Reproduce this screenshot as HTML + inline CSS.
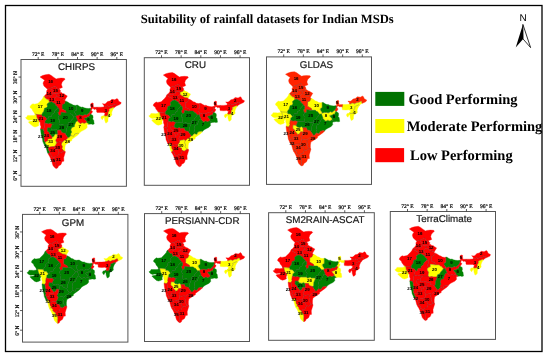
<!DOCTYPE html>
<html><head><meta charset="utf-8"><style>
html,body{margin:0;padding:0;background:#fff;}
svg{display:block;text-rendering:geometricPrecision;}
.ax{font-family:"Liberation Serif",serif;font-size:5.5px;fill:#000;stroke:#000;stroke-width:0.18px;}
.tt{font-family:"Liberation Sans",sans-serif;font-size:9.8px;fill:#1a1a1a;stroke:#1a1a1a;stroke-width:0.2px;}
.nb{font-family:"Liberation Sans",sans-serif;font-size:4.4px;font-weight:bold;fill:#000;}
.lg{font-family:"Liberation Serif",serif;font-size:14.5px;font-weight:bold;fill:#000;}
</style></head><body>
<svg width="550" height="359" viewBox="0 0 550 359">
<defs>
<path id="s2" d="M77.6 -71.4 77.3 -71.4 74.1 -69.7 73.6 -70.2 70.4 -68.6 69.3 -69.7 66.3 -68.4 65.8 -68.6 65.7 -70.1 64.4 -71.2 64.2 -71.6 66.5 -71.4 67.5 -71.9 69.4 -73.7 71.7 -74.3 73.7 -76.0 76.6 -75.5 78.9 -76.8 79.9 -75.7 80.6 -74.0 83.0 -72.7 82.5 -71.4 81.5 -70.7 78.2 -69.3Z"/>
<path id="s3" d="M66.7 -59.1 65.9 -60.1 66.2 -60.3 67.0 -61.9 65.2 -62.9 62.2 -62.7 58.9 -62.9 58.5 -63.2 58.4 -65.4 58.8 -68.1 62.2 -68.1 65.8 -68.4 65.8 -68.6 66.3 -68.4 69.3 -69.7 70.4 -68.6 73.6 -70.2 74.1 -69.7 77.3 -71.4 77.6 -71.4 78.2 -69.3 76.3 -68.1 75.8 -67.3 75.0 -67.8 70.9 -66.0 71.3 -64.7 69.9 -62.4 70.1 -61.5 69.3 -59.4Z"/>
<path id="s4" d="M66.7 -59.1 69.3 -59.4 70.1 -61.5 69.9 -62.4 71.3 -64.7 70.9 -66.0 75.0 -67.8 75.8 -67.3 75.0 -66.2 74.0 -64.2 73.4 -62.2 73.7 -60.3 72.0 -58.6 70.4 -58.3 69.8 -56.3 69.8 -54.0 68.8 -52.7 67.5 -52.2 66.5 -55.0 66.2 -58.0 65.2 -57.5 64.2 -55.5 63.4 -56.3 62.7 -57.6 63.5 -59.3 65.2 -59.4 65.9 -60.1Z"/>
<path id="s5" d="M52.6 -66.4 52.1 -67.0 52.7 -66.8 52.9 -68.1 52.4 -69.8 52.7 -71.7 54.4 -72.4 55.2 -71.7 54.9 -70.1 55.3 -69.6 55.3 -69.1 55.0 -68.0 58.8 -68.1 58.4 -65.4 57.6 -66.2 56.0 -65.8 55.3 -66.5 54.0 -67.0 53.1 -64.8 54.4 -63.9 53.9 -62.7 52.6 -61.1 51.8 -61.3 50.9 -62.6 50.9 -63.0 51.6 -63.5Z"/>
<path id="s6" d="M48.2 -53.0 48.4 -53.7 45.8 -56.7 46.0 -57.3 48.6 -57.9 49.2 -58.8 50.7 -58.8 51.8 -61.3 52.6 -61.1 54.7 -59.8 54.9 -57.6 54.4 -56.3 55.5 -55.0 56.0 -51.3 54.4 -50.9 53.1 -51.3 50.5 -51.0Z"/>
<path id="s7" d="M36.6 -41.4 35.5 -39.0 32.7 -39.7 32.3 -41.4 33.4 -43.2 32.5 -45.3 33.5 -47.9 36.2 -48.9 36.1 -50.1 37.8 -53.8 39.2 -54.5 42.0 -51.7 44.2 -52.7 46.0 -52.0 48.2 -53.0 50.5 -51.0 49.1 -50.8 48.8 -49.5 49.1 -48.1 47.5 -46.2 43.2 -44.0 41.6 -42.7 40.8 -41.7 39.9 -42.1Z"/>
<path id="s8" d="M38.4 -59.7 41.2 -60.5 42.2 -60.2 42.6 -60.4 44.6 -59.9 46.9 -61.1 48.3 -60.4 50.9 -62.6 51.8 -61.3 50.7 -58.8 49.2 -58.8 48.6 -57.9 46.0 -57.3 45.8 -56.7 48.4 -53.7 48.2 -53.0 46.0 -52.0 44.2 -52.7 42.0 -51.7 39.2 -54.5 39.2 -54.7 37.6 -58.7Z"/>
<path id="s9" d="M38.3 -70.1 39.0 -70.2 39.6 -70.1 41.4 -68.9 43.2 -68.1 44.5 -68.3 45.9 -67.5 48.1 -67.0 50.1 -66.8 52.1 -67.0 52.6 -66.4 51.6 -63.5 50.9 -63.0 50.9 -62.6 48.3 -60.4 46.9 -61.1 44.6 -59.9 42.6 -60.4 42.2 -60.2 41.2 -60.5 38.4 -59.7 36.4 -62.9 36.8 -64.5 38.3 -65.1Z"/>
<path id="s10" d="M28.0 -62.4 27.7 -64.2 24.1 -66.3 23.7 -67.0 23.9 -67.4 23.9 -70.9 26.0 -71.6 27.3 -74.4 29.5 -73.4 31.8 -71.7 33.1 -71.4 35.0 -70.2 37.2 -69.9 38.3 -70.1 38.3 -65.1 36.8 -64.5 36.4 -62.9 38.4 -59.7 37.6 -58.7 35.9 -58.4 33.6 -61.1 32.8 -61.1 31.6 -62.4Z"/>
<path id="s11" d="M19.5 -67.4 19.2 -68.5 17.0 -70.5 16.9 -71.3 18.1 -73.7 16.8 -75.2 15.9 -76.8 18.6 -79.2 21.4 -77.6 23.3 -76.2 24.5 -76.3 26.7 -75.4 26.4 -74.8 27.3 -74.4 26.0 -71.6 23.9 -70.9 23.9 -67.4 23.7 -67.0 24.1 -66.3 27.7 -64.2 28.0 -62.4 27.9 -62.3 23.0 -63.0 22.8 -60.4 20.9 -59.7 19.5 -62.8 20.8 -63.6 20.8 -66.7Z"/>
<path id="s12" d="M23.3 -76.2 18.6 -79.2 18.3 -81.3 21.2 -82.2 22.0 -83.3 21.9 -83.2 23.3 -82.9 24.2 -81.9 25.9 -81.5 27.0 -80.6 29.1 -79.4 26.7 -75.4 24.5 -76.3Z"/>
<path id="s13" d="M12.0 -73.0 11.2 -73.1 10.0 -75.8 8.9 -75.7 6.6 -77.6 6.5 -78.3 10.3 -79.6 11.4 -78.9 13.5 -79.8 14.3 -82.1 14.6 -82.3 17.6 -81.9 18.3 -81.3 18.6 -79.2 15.9 -76.8 16.8 -75.2 18.1 -73.7 16.9 -71.3 13.4 -73.5 13.0 -73.6Z"/>
<path id="s14" d="M11.4 -78.9 10.3 -79.6 6.5 -78.3 5.8 -79.1 6.5 -79.6 8.2 -81.5 8.5 -82.5 8.4 -84.5 9.5 -85.8 8.8 -86.5 9.8 -86.4 11.5 -87.2 12.4 -87.0 14.6 -83.5 14.6 -82.3 14.3 -82.1 13.5 -79.8Z"/>
<path id="s15" d="M14.6 -82.3 14.6 -83.5 12.4 -87.0 17.1 -89.4 17.3 -89.3 17.8 -88.0 19.2 -86.4 21.5 -85.6 22.3 -84.8 22.0 -83.3 21.2 -82.2 18.3 -81.3 17.6 -81.9Z"/>
<path id="s16" d="M19.2 -86.4 17.8 -88.0 17.3 -89.3 17.1 -89.4 12.4 -87.0 11.5 -87.2 9.8 -86.4 8.8 -86.5 5.7 -89.4 4.9 -91.7 5.2 -93.3 6.5 -95.1 1.8 -98.4 4.3 -99.7 7.2 -100.6 10.8 -101.0 13.1 -99.9 15.7 -97.9 18.0 -96.4 19.5 -96.9 22.9 -97.2 26.1 -97.0 26.9 -96.0 24.9 -94.3 23.9 -93.0 23.2 -90.7 24.2 -87.9 22.4 -87.1 21.0 -86.8 21.5 -85.6Z"/>
<path id="s17" d="M3.6 -60.4 -2.1 -60.9 -2.5 -61.4 -3.4 -61.5 -4.3 -62.9 -5.6 -64.5 -6.2 -66.2 -8.2 -67.8 -7.9 -69.4 -6.5 -70.7 -5.2 -71.6 -3.9 -71.1 -0.3 -71.7 3.3 -75.3 4.6 -77.0 5.2 -78.6 5.8 -79.1 6.5 -78.3 6.6 -77.6 8.9 -75.7 10.0 -75.8 11.2 -73.1 8.9 -71.2 9.3 -68.8 8.3 -67.5 6.4 -67.0 5.5 -63.3 4.6 -62.8Z"/>
<path id="s18" d="M9.8 -56.5 8.5 -56.3 6.5 -58.6 4.0 -58.8 3.6 -60.4 4.6 -62.8 5.5 -63.3 6.4 -67.0 8.3 -67.5 9.3 -68.8 8.9 -71.2 11.2 -73.1 12.0 -73.0 13.0 -73.6 13.4 -73.5 16.9 -71.3 17.0 -70.5 19.2 -68.5 19.5 -67.4 16.2 -64.0 16.4 -63.4 16.3 -62.8 13.7 -60.9 13.4 -58.9 10.5 -58.9Z"/>
<path id="s19" d="M21.4 -55.4 20.7 -51.3 16.0 -51.3 15.8 -51.4 14.1 -51.0 11.3 -51.9 10.2 -51.4 6.6 -52.3 6.8 -54.6 8.5 -56.3 9.8 -56.5 10.5 -58.9 13.4 -58.9 13.7 -60.9 16.3 -62.8 16.4 -63.4 16.2 -64.0 19.5 -67.4 20.8 -66.7 20.8 -63.6 19.5 -62.8 20.9 -59.7 19.8 -58.2 20.4 -56.1Z"/>
<path id="s20" d="M21.4 -55.4 20.4 -56.1 19.8 -58.2 20.9 -59.7 22.8 -60.4 23.0 -63.0 27.9 -62.3 28.0 -62.4 31.6 -62.4 32.8 -61.1 33.6 -61.1 35.9 -58.4 34.0 -55.9 33.6 -55.8 32.3 -53.4 30.1 -52.5 29.5 -50.3 25.4 -50.3 24.6 -50.9 21.6 -50.2 20.7 -51.3Z"/>
<path id="s21" d="M-0.9 -56.9 -1.2 -57.1 -2.1 -60.9 3.6 -60.4 4.0 -58.8 6.5 -58.6 8.5 -56.3 6.8 -54.6 6.6 -52.3 6.0 -48.9 6.4 -48.1 5.1 -45.7 2.3 -46.2 2.8 -48.5 2.0 -50.8 2.0 -53.1 1.1 -53.4Z"/>
<path id="s22" d="M-2.5 -61.4 -2.1 -60.9 -1.2 -57.1 -0.9 -56.9 1.1 -53.4 0.3 -51.4 0.7 -49.8 -1.3 -48.8 -3.3 -48.3 -5.2 -49.0 -8.8 -52.1 -9.8 -53.4 -8.2 -54.0 -6.2 -54.2 -5.1 -55.3 -7.2 -55.3 -9.2 -55.0 -10.8 -55.7 -12.1 -56.7 -12.6 -57.8 -11.5 -58.1 -10.6 -59.9 -7.9 -59.9 -6.2 -59.8 -4.6 -59.9 -3.1 -60.3 -3.4 -61.5Z"/>
<path id="s23" d="M5.1 -45.7 6.0 -43.5 5.7 -42.6 6.7 -40.2 5.7 -38.8 6.5 -36.3 5.8 -35.2 7.2 -33.0 7.0 -32.2 8.7 -30.3 8.7 -30.1 6.8 -29.1 6.5 -29.5 4.6 -33.7 4.3 -36.0 2.8 -41.9 2.3 -46.2Z"/>
<path id="s24" d="M6.7 -40.2 5.7 -42.6 6.0 -43.5 5.1 -45.7 6.4 -48.1 6.0 -48.9 6.6 -52.2 10.2 -51.4 11.3 -51.9 14.1 -51.0 12.6 -47.2 9.5 -47.5 9.2 -44.4 11.2 -42.8 11.6 -41.2 12.1 -41.0 14.3 -38.3 13.6 -36.4 10.1 -36.4 9.8 -36.0 9.8 -34.5 7.2 -33.0 5.8 -35.2 6.5 -36.3 5.7 -38.8Z"/>
<path id="s25" d="M11.2 -42.8 9.2 -44.4 9.5 -47.5 12.6 -47.2 13.4 -45.9 16.1 -45.3 17.6 -46.2 18.2 -46.0 19.3 -45.0 19.7 -41.2 19.1 -40.8 17.0 -41.0 15.6 -38.5 14.3 -38.3 12.1 -41.0 11.6 -41.2Z"/>
<path id="s26" d="M19.3 -45.0 18.2 -46.0 17.6 -46.2 16.1 -45.3 13.4 -45.9 12.6 -47.2 14.1 -51.0 15.8 -51.4 16.0 -51.3 20.7 -51.3 21.6 -50.2 24.6 -50.9 25.4 -50.3 29.5 -50.3 29.7 -49.8 27.9 -45.4 28.1 -44.9 27.9 -42.7 27.1 -41.8 23.3 -42.9 22.7 -45.0Z"/>
<path id="s27" d="M28.1 -44.9 27.9 -45.4 29.7 -49.8 29.5 -50.3 30.1 -52.5 32.3 -53.4 33.6 -55.8 34.0 -55.9 35.9 -58.4 37.6 -58.7 39.2 -54.7 39.2 -54.5 37.8 -53.8 36.1 -50.1 36.2 -48.9 33.5 -47.9 32.5 -45.3 33.4 -43.2 32.3 -41.4 32.7 -39.7 30.9 -37.5 29.6 -37.5 27.1 -41.2 27.1 -41.8 27.9 -42.7Z"/>
<path id="s28" d="M25.6 -24.2 23.6 -26.7 24.2 -28.5 23.1 -30.8 23.6 -33.0 24.0 -33.1 26.3 -35.3 27.6 -35.4 29.6 -37.5 30.9 -37.5 32.7 -39.7 35.5 -39.0 36.6 -41.4 39.9 -42.1 40.8 -41.7 39.6 -40.3 33.7 -36.0 33.7 -34.7 31.8 -33.7 30.1 -32.4 27.2 -30.6 26.7 -27.8 26.7 -24.9 27.0 -23.9Z"/>
<path id="s29" d="M19.1 -40.8 19.7 -41.2 19.3 -45.0 22.7 -45.0 23.3 -42.9 27.1 -41.8 27.1 -41.2 29.6 -37.5 27.6 -35.4 26.3 -35.3 24.0 -33.1 23.6 -33.0 22.6 -33.7 18.3 -32.9 17.2 -34.7 18.1 -36.7 18.6 -37.1Z"/>
<path id="s30" d="M22.7 -22.3 20.8 -22.9 20.0 -24.1 20.0 -25.3 16.7 -26.6 16.3 -28.8 17.2 -30.4 17.6 -30.6 18.3 -32.9 22.6 -33.7 23.6 -33.0 23.1 -30.8 24.2 -28.5 23.6 -26.7 25.6 -24.2Z"/>
<path id="s31" d="M17.5 -13.8 15.6 -16.5 15.6 -17.2 17.4 -19.3 19.3 -19.3 20.8 -22.9 22.7 -22.3 25.6 -24.2 27.0 -23.9 27.2 -23.3 25.5 -17.7 25.7 -14.1 23.9 -13.9 23.3 -12.0 22.6 -10.6 20.3 -9.3 19.6 -7.5 18.2 -6.7 17.7 -7.0 17.7 -11.1 17.9 -11.5Z"/>
<path id="s32" d="M8.7 -30.1 10.3 -27.8 10.1 -27.3 10.5 -24.7 11.5 -23.8 11.4 -22.5 9.9 -21.5 9.2 -22.9 7.9 -27.8 6.8 -29.1Z"/>
<path id="s33" d="M7.2 -33.0 9.8 -34.5 9.8 -36.0 10.1 -36.4 13.6 -36.4 14.3 -38.3 15.6 -38.5 17.0 -41.0 19.1 -40.8 18.6 -37.1 18.1 -36.7 17.2 -34.7 18.3 -32.9 17.6 -30.6 17.2 -30.4 16.3 -28.8 12.8 -28.5 12.6 -28.5 10.3 -27.8 8.7 -30.3 7.0 -32.2Z"/>
<path id="s34" d="M11.4 -22.5 11.5 -23.8 10.5 -24.7 10.1 -27.3 10.3 -27.8 12.6 -28.5 12.8 -28.5 16.3 -28.8 16.7 -26.6 20.0 -25.3 20.0 -24.1 20.8 -22.9 19.3 -19.3 17.4 -19.3 15.6 -17.2 12.9 -19.3 13.0 -20.6Z"/>
<path id="s35" d="M11.4 -22.5 13.0 -20.6 12.9 -19.3 15.6 -17.2 15.6 -16.5 17.5 -13.8 17.9 -11.5 17.7 -11.1 17.7 -7.0 16.7 -7.5 14.9 -9.5 14.1 -11.8 13.8 -13.8 11.5 -18.7 9.9 -21.5Z"/>
<path id="inner" d="M77.6 -71.4 77.3 -71.4M77.3 -71.4 74.1 -69.7M74.1 -69.7 73.6 -70.2M73.6 -70.2 70.4 -68.6M70.4 -68.6 69.3 -69.7M69.3 -69.7 66.3 -68.4M66.3 -68.4 65.9 -68.6M78.2 -69.5 77.6 -71.4M66.7 -59.1 66.0 -60.0M58.4 -65.6 58.8 -68.0M75.6 -67.4 75.0 -67.8M75.0 -67.8 70.9 -66.0M70.9 -66.0 71.3 -64.7M71.3 -64.7 69.9 -62.4M69.9 -62.4 70.1 -61.5M70.1 -61.5 69.3 -59.4M69.3 -59.4 66.7 -59.1M52.6 -66.4 52.3 -66.8M52.4 -61.1 51.8 -61.3M51.8 -61.3 50.9 -62.6M50.9 -62.6 50.9 -63.0M50.9 -63.0 51.6 -63.5M51.6 -63.5 52.6 -66.4M48.2 -53.0 48.4 -53.7M48.4 -53.7 45.8 -56.7M45.8 -56.7 46.0 -57.3M46.0 -57.3 48.6 -57.9M48.6 -57.9 49.2 -58.8M49.2 -58.8 50.7 -58.8M50.7 -58.8 51.8 -61.3M50.4 -51.1 48.2 -53.0M36.6 -41.4 35.5 -39.0M35.5 -39.0 32.7 -39.7M32.7 -39.7 32.3 -41.4M32.3 -41.4 33.4 -43.2M33.4 -43.2 32.5 -45.3M32.5 -45.3 33.5 -47.9M33.5 -47.9 36.2 -48.9M36.2 -48.9 36.1 -50.1M36.1 -50.1 37.8 -53.8M37.8 -53.8 39.2 -54.5M39.2 -54.5 42.0 -51.7M42.0 -51.7 44.2 -52.7M44.2 -52.7 46.0 -52.0M46.0 -52.0 48.2 -53.0M40.6 -41.7 39.9 -42.1M39.9 -42.1 36.6 -41.4M38.4 -59.7 41.2 -60.5M41.2 -60.5 42.2 -60.2M42.2 -60.2 42.6 -60.4M42.6 -60.4 44.6 -59.9M44.6 -59.9 46.9 -61.1M46.9 -61.1 48.3 -60.4M48.3 -60.4 50.9 -62.6M39.2 -54.5 39.2 -54.7M39.2 -54.7 37.6 -58.7M37.6 -58.7 38.4 -59.7M38.4 -59.7 36.4 -62.9M36.4 -62.9 36.8 -64.5M36.8 -64.5 38.3 -65.1M38.3 -65.1 38.3 -70.0M28.0 -62.4 27.7 -64.2M27.7 -64.2 24.1 -66.3M24.1 -66.3 23.7 -67.0M23.7 -67.0 23.9 -67.4M23.9 -67.4 23.9 -70.9M23.9 -70.9 26.0 -71.6M26.0 -71.6 27.3 -74.3M37.6 -58.7 35.9 -58.4M35.9 -58.4 33.6 -61.1M33.6 -61.1 32.8 -61.1M32.8 -61.1 31.6 -62.4M31.6 -62.4 28.0 -62.4M19.5 -67.4 19.2 -68.5M19.2 -68.5 17.0 -70.5M17.0 -70.5 16.9 -71.3M16.9 -71.3 16.9 -71.3M16.9 -71.3 18.1 -73.5M18.1 -73.5 18.1 -73.7M18.1 -73.7 16.8 -75.2M16.8 -75.2 15.9 -76.8M15.9 -76.8 15.9 -76.8M15.9 -76.8 18.6 -79.2M18.6 -79.2 21.4 -77.6M21.4 -77.6 21.4 -77.4M21.4 -77.4 23.3 -76.2M23.3 -76.2 24.5 -76.3M24.5 -76.3 26.6 -75.5M28.0 -62.4 27.9 -62.3M27.9 -62.3 23.0 -63.0M23.0 -63.0 22.8 -60.4M22.8 -60.4 20.9 -59.7M20.9 -59.7 19.5 -62.8M19.5 -62.8 20.8 -63.6M20.8 -63.6 20.8 -66.7M20.8 -66.7 19.5 -67.4M18.6 -79.2 18.3 -81.3M18.3 -81.3 21.2 -82.2M21.2 -82.2 21.8 -83.1M12.0 -73.0 11.2 -73.1M11.2 -73.1 10.0 -75.8M10.0 -75.8 8.9 -75.7M8.9 -75.7 6.6 -77.6M6.6 -77.6 6.5 -78.3M6.5 -78.3 10.3 -79.6M10.3 -79.6 11.4 -78.9M11.4 -78.9 13.5 -79.8M13.5 -79.8 14.3 -82.1M14.3 -82.1 14.6 -82.3M14.6 -82.3 17.6 -81.9M17.6 -81.9 18.3 -81.3M16.9 -71.3 13.4 -73.5M13.4 -73.5 13.0 -73.6M13.0 -73.6 12.0 -73.0M6.5 -78.3 5.9 -79.0M9.0 -86.5 9.8 -86.4M9.8 -86.4 11.5 -87.2M11.5 -87.2 12.4 -87.0M12.4 -87.0 14.6 -83.5M14.6 -83.5 14.6 -82.3M12.4 -87.0 17.1 -89.4M17.1 -89.4 17.3 -89.3M17.3 -89.3 17.8 -88.0M17.8 -88.0 19.2 -86.4M19.2 -86.4 21.2 -85.7M3.6 -60.4 -2.1 -60.9M-2.1 -60.9 -2.5 -61.4M-2.5 -61.4 -3.3 -61.5M11.2 -73.1 8.9 -71.2M8.9 -71.2 9.3 -68.8M9.3 -68.8 8.3 -67.5M8.3 -67.5 6.4 -67.0M6.4 -67.0 5.5 -63.3M5.5 -63.3 4.6 -62.8M4.6 -62.8 3.6 -60.4M9.8 -56.5 8.5 -56.3M8.5 -56.3 6.5 -58.6M6.5 -58.6 4.0 -58.8M4.0 -58.8 3.6 -60.4M19.5 -67.4 16.2 -64.0M16.2 -64.0 16.4 -63.4M16.4 -63.4 16.3 -62.8M16.3 -62.8 13.7 -60.9M13.7 -60.9 13.4 -58.9M13.4 -58.9 10.5 -58.9M10.5 -58.9 9.8 -56.5M21.4 -55.4 20.7 -51.3M20.7 -51.3 16.0 -51.3M16.0 -51.3 15.8 -51.4M15.8 -51.4 14.1 -51.0M14.1 -51.0 11.3 -51.9M11.3 -51.9 10.2 -51.4M10.2 -51.4 6.6 -52.3M6.6 -52.3 6.8 -54.6M6.8 -54.6 8.5 -56.3M20.9 -59.7 19.8 -58.2M19.8 -58.2 20.4 -56.1M20.4 -56.1 21.4 -55.4M35.9 -58.4 34.0 -55.9M34.0 -55.9 33.6 -55.8M33.6 -55.8 32.3 -53.4M32.3 -53.4 30.1 -52.5M30.1 -52.5 29.5 -50.3M29.5 -50.3 25.4 -50.3M25.4 -50.3 24.6 -50.9M24.6 -50.9 21.6 -50.2M21.6 -50.2 20.7 -51.3M-0.9 -56.9 -1.2 -57.1M-1.2 -57.1 -2.1 -60.9M6.6 -52.3 6.6 -52.2M6.6 -52.2 6.0 -48.9M6.0 -48.9 6.4 -48.1M6.4 -48.1 5.1 -45.7M5.1 -45.7 2.4 -46.2M1.0 -53.5 -0.9 -56.9M5.1 -45.7 6.0 -43.5M6.0 -43.5 5.7 -42.6M5.7 -42.6 6.7 -40.2M6.7 -40.2 5.7 -38.8M5.7 -38.8 6.5 -36.3M6.5 -36.3 5.8 -35.2M5.8 -35.2 7.2 -33.0M7.2 -33.0 7.0 -32.2M7.0 -32.2 8.7 -30.3M8.7 -30.3 8.7 -30.1M8.7 -30.1 7.0 -29.2M14.1 -51.0 12.6 -47.2M12.6 -47.2 9.5 -47.5M9.5 -47.5 9.2 -44.4M9.2 -44.4 11.2 -42.8M11.2 -42.8 11.6 -41.2M11.6 -41.2 12.1 -41.0M12.1 -41.0 14.3 -38.3M14.3 -38.3 13.6 -36.4M13.6 -36.4 10.1 -36.4M10.1 -36.4 9.8 -36.0M9.8 -36.0 9.8 -34.5M9.8 -34.5 7.2 -33.0M12.6 -47.2 13.4 -45.9M13.4 -45.9 16.1 -45.3M16.1 -45.3 17.6 -46.2M17.6 -46.2 18.2 -46.0M18.2 -46.0 19.3 -45.0M19.3 -45.0 19.7 -41.2M19.7 -41.2 19.1 -40.8M19.1 -40.8 17.0 -41.0M17.0 -41.0 15.6 -38.5M15.6 -38.5 14.3 -38.3M29.5 -50.3 29.7 -49.8M29.7 -49.8 27.9 -45.4M27.9 -45.4 28.1 -44.9M28.1 -44.9 27.9 -42.7M27.9 -42.7 27.1 -41.8M27.1 -41.8 23.3 -42.9M23.3 -42.9 22.7 -45.0M22.7 -45.0 19.3 -45.0M32.7 -39.7 30.9 -37.5M30.9 -37.5 29.6 -37.5M29.6 -37.5 27.1 -41.2M27.1 -41.2 27.1 -41.8M25.6 -24.2 23.6 -26.7M23.6 -26.7 24.2 -28.5M24.2 -28.5 23.1 -30.8M23.1 -30.8 23.6 -33.0M23.6 -33.0 24.0 -33.1M24.0 -33.1 26.3 -35.3M26.3 -35.3 27.6 -35.4M27.6 -35.4 29.6 -37.5M26.8 -24.0 25.6 -24.2M23.6 -33.0 22.6 -33.7M22.6 -33.7 18.3 -32.9M18.3 -32.9 17.2 -34.7M17.2 -34.7 18.1 -36.7M18.1 -36.7 18.6 -37.1M18.6 -37.1 19.1 -40.8M22.7 -22.3 20.8 -22.9M20.8 -22.9 20.0 -24.1M20.0 -24.1 20.0 -25.3M20.0 -25.3 16.7 -26.6M16.7 -26.6 16.3 -28.8M16.3 -28.8 17.2 -30.4M17.2 -30.4 17.6 -30.6M17.6 -30.6 18.3 -32.9M25.6 -24.2 22.7 -22.3M17.5 -13.8 17.4 -13.8M17.4 -13.8 15.6 -16.5M15.6 -16.5 15.6 -17.2M15.6 -17.2 17.4 -19.3M17.4 -19.3 19.3 -19.3M19.3 -19.3 20.8 -22.9M17.7 -7.1 17.7 -11.1M17.7 -11.1 17.9 -11.5M17.9 -11.5 17.5 -13.8M8.7 -30.1 10.3 -27.8M10.3 -27.8 10.1 -27.3M10.1 -27.3 10.5 -24.7M10.5 -24.7 11.5 -23.8M11.5 -23.8 11.4 -22.5M11.4 -22.5 10.0 -21.6M16.3 -28.8 12.8 -28.5M12.8 -28.5 12.6 -28.5M12.6 -28.5 10.3 -27.8M15.6 -17.2 12.9 -19.3M12.9 -19.3 13.0 -20.6M13.0 -20.6 11.4 -22.5"/>
</defs>
<rect x="5.5" y="5.5" width="536.5" height="346" fill="none" stroke="#000" stroke-width="1.3"/>
<text x="267.2" y="22.7" text-anchor="middle" style="font-family:'Liberation Serif',serif;font-size:12.6px;font-weight:bold">Suitability of rainfall datasets for Indian MSDs</text>
<g>
<g transform="translate(38.20 175.30)" stroke-width="0.35">
<use href="#s2" fill="#ff0000" stroke="#ff0000"/><use href="#s3" fill="#ff0000" stroke="#ff0000"/><use href="#s4" fill="#ffff00" stroke="#ffff00"/><use href="#s5" fill="#ff0000" stroke="#ff0000"/><use href="#s6" fill="#008200" stroke="#008200"/><use href="#s7" fill="#ffff00" stroke="#ffff00"/><use href="#s8" fill="#ff0000" stroke="#ff0000"/><use href="#s9" fill="#008200" stroke="#008200"/><use href="#s10" fill="#008200" stroke="#008200"/><use href="#s11" fill="#ff0000" stroke="#ff0000"/><use href="#s12" fill="#ff0000" stroke="#ff0000"/><use href="#s13" fill="#ff0000" stroke="#ff0000"/><use href="#s14" fill="#ff0000" stroke="#ff0000"/><use href="#s15" fill="#ff0000" stroke="#ff0000"/><use href="#s16" fill="#ff0000" stroke="#ff0000"/><use href="#s17" fill="#ffff00" stroke="#ffff00"/><use href="#s18" fill="#008200" stroke="#008200"/><use href="#s19" fill="#008200" stroke="#008200"/><use href="#s20" fill="#008200" stroke="#008200"/><use href="#s21" fill="#ff0000" stroke="#ff0000"/><use href="#s22" fill="#ffff00" stroke="#ffff00"/><use href="#s23" fill="#008200" stroke="#008200"/><use href="#s24" fill="#ff0000" stroke="#ff0000"/><use href="#s25" fill="#008200" stroke="#008200"/><use href="#s26" fill="#008200" stroke="#008200"/><use href="#s27" fill="#008200" stroke="#008200"/><use href="#s28" fill="#ffff00" stroke="#ffff00"/><use href="#s29" fill="#ff0000" stroke="#ff0000"/><use href="#s30" fill="#ff0000" stroke="#ff0000"/><use href="#s31" fill="#ff0000" stroke="#ff0000"/><use href="#s32" fill="#008200" stroke="#008200"/><use href="#s33" fill="#ffff00" stroke="#ffff00"/><use href="#s34" fill="#ff0000" stroke="#ff0000"/><use href="#s35" fill="#ff0000" stroke="#ff0000"/><use href="#inner" fill="none" stroke="#444" stroke-width="0.3"/>
</g>
<g transform="translate(38.20 175.30)"><text class="nb" x="12.4" y="-92.4" text-anchor="middle">16</text><text class="nb" x="17.3" y="-83.3" text-anchor="middle">15</text><text class="nb" x="10.7" y="-80.3" text-anchor="middle">14</text><text class="nb" x="23.6" y="-77.9" text-anchor="middle">12</text><text class="nb" x="13.6" y="-74.6" text-anchor="middle">13</text><text class="nb" x="20.3" y="-71.7" text-anchor="middle">11</text><text class="nb" x="2.0" y="-67.0" text-anchor="middle">17</text><text class="nb" x="10.7" y="-63.3" text-anchor="middle">18</text><text class="nb" x="-3.1" y="-53.6" text-anchor="middle">22</text><text class="nb" x="2.8" y="-54.9" text-anchor="middle">21</text><text class="nb" x="32.8" y="-65.4" text-anchor="middle">10</text><text class="nb" x="27.0" y="-56.2" text-anchor="middle">20</text><text class="nb" x="14.4" y="-53.7" text-anchor="middle">19</text><text class="nb" x="32.8" y="-49.5" text-anchor="middle">27</text><text class="nb" x="23.6" y="-46.4" text-anchor="middle">26</text><text class="nb" x="14.4" y="-41.6" text-anchor="middle">25</text><text class="nb" x="44.0" y="-63.3" text-anchor="middle">9</text><text class="nb" x="42.4" y="-56.2" text-anchor="middle">8</text><text class="nb" x="50.3" y="-54.5" text-anchor="middle">6</text><text class="nb" x="41.5" y="-47.4" text-anchor="middle">7</text><text class="nb" x="53.6" y="-68.7" text-anchor="middle">5</text><text class="nb" x="8.2" y="-38.3" text-anchor="middle">24</text><text class="nb" x="2.3" y="-37.8" text-anchor="middle">23</text><text class="nb" x="21.5" y="-37.4" text-anchor="middle">29</text><text class="nb" x="12.4" y="-32.4" text-anchor="middle">33</text><text class="nb" x="29.2" y="-32.6" text-anchor="middle">28</text><text class="nb" x="8.2" y="-27.4" text-anchor="middle">32</text><text class="nb" x="19.5" y="-26.6" text-anchor="middle">30</text><text class="nb" x="14.5" y="-23.6" text-anchor="middle">34</text><text class="nb" x="14.5" y="-13.2" text-anchor="middle">35</text><text class="nb" x="20.3" y="-14.5" text-anchor="middle">31</text><text class="nb" x="73.7" y="-72.0" text-anchor="middle">2</text><text class="nb" x="67.5" y="-63.7" text-anchor="middle">3</text><text class="nb" x="70.8" y="-58.7" text-anchor="middle">4</text></g>
<rect x="21.00" y="59.50" width="105.40" height="126.80" fill="none" stroke="#555" stroke-width="1"/>
<line x1="38.20" y1="57.00" x2="38.20" y2="59.50" stroke="#333" stroke-width="0.8"/><text class="ax" x="38.20" y="55.90" text-anchor="middle">72° E</text><line x1="57.85" y1="57.00" x2="57.85" y2="59.50" stroke="#333" stroke-width="0.8"/><text class="ax" x="57.85" y="55.90" text-anchor="middle">78° E</text><line x1="77.50" y1="57.00" x2="77.50" y2="59.50" stroke="#333" stroke-width="0.8"/><text class="ax" x="77.50" y="55.90" text-anchor="middle">84° E</text><line x1="97.15" y1="57.00" x2="97.15" y2="59.50" stroke="#333" stroke-width="0.8"/><text class="ax" x="97.15" y="55.90" text-anchor="middle">90° E</text><line x1="116.80" y1="57.00" x2="116.80" y2="59.50" stroke="#333" stroke-width="0.8"/><text class="ax" x="116.80" y="55.90" text-anchor="middle">96° E</text><line x1="18.50" y1="175.30" x2="21.00" y2="175.30" stroke="#333" stroke-width="0.8"/><text class="ax" transform="translate(17.00 175.70) rotate(-90)" text-anchor="middle">6° N</text><line x1="18.50" y1="155.65" x2="21.00" y2="155.65" stroke="#333" stroke-width="0.8"/><text class="ax" transform="translate(17.00 156.05) rotate(-90)" text-anchor="middle">12° N</text><line x1="18.50" y1="136.00" x2="21.00" y2="136.00" stroke="#333" stroke-width="0.8"/><text class="ax" transform="translate(17.00 136.40) rotate(-90)" text-anchor="middle">18° N</text><line x1="18.50" y1="116.35" x2="21.00" y2="116.35" stroke="#333" stroke-width="0.8"/><text class="ax" transform="translate(17.00 116.75) rotate(-90)" text-anchor="middle">24° N</text><line x1="18.50" y1="96.70" x2="21.00" y2="96.70" stroke="#333" stroke-width="0.8"/><text class="ax" transform="translate(17.00 97.10) rotate(-90)" text-anchor="middle">30° N</text><line x1="18.50" y1="77.05" x2="21.00" y2="77.05" stroke="#333" stroke-width="0.8"/><text class="ax" transform="translate(17.00 77.45) rotate(-90)" text-anchor="middle">36° N</text>
<text class="tt" x="76.50" y="70.00" text-anchor="middle">CHIRPS</text>
</g>
<g>
<g transform="translate(161.50 173.50)" stroke-width="0.35">
<use href="#s2" fill="#ff0000" stroke="#ff0000"/><use href="#s3" fill="#ff0000" stroke="#ff0000"/><use href="#s4" fill="#ffff00" stroke="#ffff00"/><use href="#s5" fill="#ff0000" stroke="#ff0000"/><use href="#s6" fill="#008200" stroke="#008200"/><use href="#s7" fill="#008200" stroke="#008200"/><use href="#s8" fill="#ff0000" stroke="#ff0000"/><use href="#s9" fill="#ff0000" stroke="#ff0000"/><use href="#s10" fill="#ff0000" stroke="#ff0000"/><use href="#s11" fill="#ff0000" stroke="#ff0000"/><use href="#s12" fill="#ffff00" stroke="#ffff00"/><use href="#s13" fill="#ff0000" stroke="#ff0000"/><use href="#s14" fill="#ff0000" stroke="#ff0000"/><use href="#s15" fill="#ff0000" stroke="#ff0000"/><use href="#s16" fill="#ff0000" stroke="#ff0000"/><use href="#s17" fill="#ff0000" stroke="#ff0000"/><use href="#s18" fill="#008200" stroke="#008200"/><use href="#s19" fill="#008200" stroke="#008200"/><use href="#s20" fill="#008200" stroke="#008200"/><use href="#s21" fill="#ff0000" stroke="#ff0000"/><use href="#s22" fill="#ffff00" stroke="#ffff00"/><use href="#s23" fill="#ff0000" stroke="#ff0000"/><use href="#s24" fill="#ff0000" stroke="#ff0000"/><use href="#s25" fill="#ff0000" stroke="#ff0000"/><use href="#s26" fill="#008200" stroke="#008200"/><use href="#s27" fill="#008200" stroke="#008200"/><use href="#s28" fill="#ffff00" stroke="#ffff00"/><use href="#s29" fill="#ff0000" stroke="#ff0000"/><use href="#s30" fill="#ffff00" stroke="#ffff00"/><use href="#s31" fill="#ff0000" stroke="#ff0000"/><use href="#s32" fill="#ffff00" stroke="#ffff00"/><use href="#s33" fill="#ff0000" stroke="#ff0000"/><use href="#s34" fill="#ff0000" stroke="#ff0000"/><use href="#s35" fill="#ff0000" stroke="#ff0000"/><use href="#inner" fill="none" stroke="#444" stroke-width="0.3"/>
</g>
<g transform="translate(161.50 173.50)"><text class="nb" x="12.4" y="-92.4" text-anchor="middle">16</text><text class="nb" x="17.3" y="-83.3" text-anchor="middle">15</text><text class="nb" x="10.7" y="-80.3" text-anchor="middle">14</text><text class="nb" x="23.6" y="-77.9" text-anchor="middle">12</text><text class="nb" x="13.6" y="-74.6" text-anchor="middle">13</text><text class="nb" x="20.3" y="-71.7" text-anchor="middle">11</text><text class="nb" x="2.0" y="-67.0" text-anchor="middle">17</text><text class="nb" x="10.7" y="-63.3" text-anchor="middle">18</text><text class="nb" x="-3.1" y="-53.6" text-anchor="middle">22</text><text class="nb" x="2.8" y="-54.9" text-anchor="middle">21</text><text class="nb" x="32.8" y="-65.4" text-anchor="middle">10</text><text class="nb" x="27.0" y="-56.2" text-anchor="middle">20</text><text class="nb" x="14.4" y="-53.7" text-anchor="middle">19</text><text class="nb" x="32.8" y="-49.5" text-anchor="middle">27</text><text class="nb" x="23.6" y="-46.4" text-anchor="middle">26</text><text class="nb" x="14.4" y="-41.6" text-anchor="middle">25</text><text class="nb" x="44.0" y="-63.3" text-anchor="middle">9</text><text class="nb" x="42.4" y="-56.2" text-anchor="middle">8</text><text class="nb" x="50.3" y="-54.5" text-anchor="middle">6</text><text class="nb" x="41.5" y="-47.4" text-anchor="middle">7</text><text class="nb" x="53.6" y="-68.7" text-anchor="middle">5</text><text class="nb" x="8.2" y="-38.3" text-anchor="middle">24</text><text class="nb" x="2.3" y="-37.8" text-anchor="middle">23</text><text class="nb" x="21.5" y="-37.4" text-anchor="middle">29</text><text class="nb" x="12.4" y="-32.4" text-anchor="middle">33</text><text class="nb" x="29.2" y="-32.6" text-anchor="middle">28</text><text class="nb" x="8.2" y="-27.4" text-anchor="middle">32</text><text class="nb" x="19.5" y="-26.6" text-anchor="middle">30</text><text class="nb" x="14.5" y="-23.6" text-anchor="middle">34</text><text class="nb" x="14.5" y="-13.2" text-anchor="middle">35</text><text class="nb" x="20.3" y="-14.5" text-anchor="middle">31</text><text class="nb" x="73.7" y="-72.0" text-anchor="middle">2</text><text class="nb" x="67.5" y="-63.7" text-anchor="middle">3</text><text class="nb" x="70.8" y="-58.7" text-anchor="middle">4</text></g>
<rect x="144.30" y="57.70" width="105.20" height="127.60" fill="none" stroke="#555" stroke-width="1"/>
<line x1="161.50" y1="55.20" x2="161.50" y2="57.70" stroke="#333" stroke-width="0.8"/><text class="ax" x="161.50" y="54.10" text-anchor="middle">72° E</text><line x1="181.15" y1="55.20" x2="181.15" y2="57.70" stroke="#333" stroke-width="0.8"/><text class="ax" x="181.15" y="54.10" text-anchor="middle">78° E</text><line x1="200.80" y1="55.20" x2="200.80" y2="57.70" stroke="#333" stroke-width="0.8"/><text class="ax" x="200.80" y="54.10" text-anchor="middle">84° E</text><line x1="220.45" y1="55.20" x2="220.45" y2="57.70" stroke="#333" stroke-width="0.8"/><text class="ax" x="220.45" y="54.10" text-anchor="middle">90° E</text><line x1="240.10" y1="55.20" x2="240.10" y2="57.70" stroke="#333" stroke-width="0.8"/><text class="ax" x="240.10" y="54.10" text-anchor="middle">96° E</text>
<text class="tt" x="195.40" y="68.20" text-anchor="middle">CRU</text>
</g>
<g>
<g transform="translate(283.70 172.70)" stroke-width="0.35">
<use href="#s2" fill="#ff2400" stroke="#ff2400"/><use href="#s3" fill="#ffff00" stroke="#ffff00"/><use href="#s4" fill="#ffff00" stroke="#ffff00"/><use href="#s5" fill="#ff2400" stroke="#ff2400"/><use href="#s6" fill="#008200" stroke="#008200"/><use href="#s7" fill="#008200" stroke="#008200"/><use href="#s8" fill="#ffff00" stroke="#ffff00"/><use href="#s9" fill="#008200" stroke="#008200"/><use href="#s10" fill="#ffff00" stroke="#ffff00"/><use href="#s11" fill="#ff2400" stroke="#ff2400"/><use href="#s12" fill="#ff2400" stroke="#ff2400"/><use href="#s13" fill="#ff2400" stroke="#ff2400"/><use href="#s14" fill="#ff2400" stroke="#ff2400"/><use href="#s15" fill="#ff2400" stroke="#ff2400"/><use href="#s16" fill="#ff2400" stroke="#ff2400"/><use href="#s17" fill="#ffff00" stroke="#ffff00"/><use href="#s18" fill="#008200" stroke="#008200"/><use href="#s19" fill="#008200" stroke="#008200"/><use href="#s20" fill="#008200" stroke="#008200"/><use href="#s21" fill="#ffff00" stroke="#ffff00"/><use href="#s22" fill="#ffff00" stroke="#ffff00"/><use href="#s23" fill="#ff2400" stroke="#ff2400"/><use href="#s24" fill="#ff2400" stroke="#ff2400"/><use href="#s25" fill="#ffff00" stroke="#ffff00"/><use href="#s26" fill="#008200" stroke="#008200"/><use href="#s27" fill="#008200" stroke="#008200"/><use href="#s28" fill="#ff2400" stroke="#ff2400"/><use href="#s29" fill="#ff2400" stroke="#ff2400"/><use href="#s30" fill="#ff2400" stroke="#ff2400"/><use href="#s31" fill="#ff2400" stroke="#ff2400"/><use href="#s32" fill="#ff2400" stroke="#ff2400"/><use href="#s33" fill="#ff2400" stroke="#ff2400"/><use href="#s34" fill="#ff2400" stroke="#ff2400"/><use href="#s35" fill="#ff2400" stroke="#ff2400"/><use href="#inner" fill="none" stroke="#444" stroke-width="0.3"/>
</g>
<g transform="translate(283.70 172.70)"><text class="nb" x="12.4" y="-92.4" text-anchor="middle">16</text><text class="nb" x="17.3" y="-83.3" text-anchor="middle">15</text><text class="nb" x="10.7" y="-80.3" text-anchor="middle">14</text><text class="nb" x="23.6" y="-77.9" text-anchor="middle">12</text><text class="nb" x="13.6" y="-74.6" text-anchor="middle">13</text><text class="nb" x="20.3" y="-71.7" text-anchor="middle">11</text><text class="nb" x="2.0" y="-67.0" text-anchor="middle">17</text><text class="nb" x="10.7" y="-63.3" text-anchor="middle">18</text><text class="nb" x="-3.1" y="-53.6" text-anchor="middle">22</text><text class="nb" x="2.8" y="-54.9" text-anchor="middle">21</text><text class="nb" x="32.8" y="-65.4" text-anchor="middle">10</text><text class="nb" x="27.0" y="-56.2" text-anchor="middle">20</text><text class="nb" x="14.4" y="-53.7" text-anchor="middle">19</text><text class="nb" x="32.8" y="-49.5" text-anchor="middle">27</text><text class="nb" x="23.6" y="-46.4" text-anchor="middle">26</text><text class="nb" x="14.4" y="-41.6" text-anchor="middle">25</text><text class="nb" x="44.0" y="-63.3" text-anchor="middle">9</text><text class="nb" x="42.4" y="-56.2" text-anchor="middle">8</text><text class="nb" x="50.3" y="-54.5" text-anchor="middle">6</text><text class="nb" x="41.5" y="-47.4" text-anchor="middle">7</text><text class="nb" x="53.6" y="-68.7" text-anchor="middle">5</text><text class="nb" x="8.2" y="-38.3" text-anchor="middle">24</text><text class="nb" x="2.3" y="-37.8" text-anchor="middle">23</text><text class="nb" x="21.5" y="-37.4" text-anchor="middle">29</text><text class="nb" x="12.4" y="-32.4" text-anchor="middle">33</text><text class="nb" x="29.2" y="-32.6" text-anchor="middle">28</text><text class="nb" x="8.2" y="-27.4" text-anchor="middle">32</text><text class="nb" x="19.5" y="-26.6" text-anchor="middle">30</text><text class="nb" x="14.5" y="-23.6" text-anchor="middle">34</text><text class="nb" x="14.5" y="-13.2" text-anchor="middle">35</text><text class="nb" x="20.3" y="-14.5" text-anchor="middle">31</text><text class="nb" x="73.7" y="-72.0" text-anchor="middle">2</text><text class="nb" x="67.5" y="-63.7" text-anchor="middle">3</text><text class="nb" x="70.8" y="-58.7" text-anchor="middle">4</text></g>
<rect x="266.50" y="56.90" width="105.00" height="127.50" fill="none" stroke="#555" stroke-width="1"/>
<line x1="283.70" y1="54.40" x2="283.70" y2="56.90" stroke="#333" stroke-width="0.8"/><text class="ax" x="283.70" y="53.30" text-anchor="middle">72° E</text><line x1="303.35" y1="54.40" x2="303.35" y2="56.90" stroke="#333" stroke-width="0.8"/><text class="ax" x="303.35" y="53.30" text-anchor="middle">78° E</text><line x1="323.00" y1="54.40" x2="323.00" y2="56.90" stroke="#333" stroke-width="0.8"/><text class="ax" x="323.00" y="53.30" text-anchor="middle">84° E</text><line x1="342.65" y1="54.40" x2="342.65" y2="56.90" stroke="#333" stroke-width="0.8"/><text class="ax" x="342.65" y="53.30" text-anchor="middle">90° E</text><line x1="362.30" y1="54.40" x2="362.30" y2="56.90" stroke="#333" stroke-width="0.8"/><text class="ax" x="362.30" y="53.30" text-anchor="middle">96° E</text>
<text class="tt" x="316.40" y="67.80" text-anchor="middle">GLDAS</text>
</g>
<g>
<g transform="translate(39.70 330.20)" stroke-width="0.35">
<use href="#s2" fill="#ffff00" stroke="#ffff00"/><use href="#s3" fill="#ff0000" stroke="#ff0000"/><use href="#s4" fill="#008200" stroke="#008200"/><use href="#s5" fill="#ff0000" stroke="#ff0000"/><use href="#s6" fill="#008200" stroke="#008200"/><use href="#s7" fill="#008200" stroke="#008200"/><use href="#s8" fill="#008200" stroke="#008200"/><use href="#s9" fill="#008200" stroke="#008200"/><use href="#s10" fill="#008200" stroke="#008200"/><use href="#s11" fill="#ff0000" stroke="#ff0000"/><use href="#s12" fill="#ffff00" stroke="#ffff00"/><use href="#s13" fill="#ff0000" stroke="#ff0000"/><use href="#s14" fill="#ff0000" stroke="#ff0000"/><use href="#s15" fill="#ff0000" stroke="#ff0000"/><use href="#s16" fill="#ff0000" stroke="#ff0000"/><use href="#s17" fill="#008200" stroke="#008200"/><use href="#s18" fill="#008200" stroke="#008200"/><use href="#s19" fill="#008200" stroke="#008200"/><use href="#s20" fill="#008200" stroke="#008200"/><use href="#s21" fill="#ffff00" stroke="#ffff00"/><use href="#s22" fill="#008200" stroke="#008200"/><use href="#s23" fill="#008200" stroke="#008200"/><use href="#s24" fill="#ff0000" stroke="#ff0000"/><use href="#s25" fill="#008200" stroke="#008200"/><use href="#s26" fill="#008200" stroke="#008200"/><use href="#s27" fill="#008200" stroke="#008200"/><use href="#s28" fill="#008200" stroke="#008200"/><use href="#s29" fill="#008200" stroke="#008200"/><use href="#s30" fill="#008200" stroke="#008200"/><use href="#s31" fill="#ff0000" stroke="#ff0000"/><use href="#s32" fill="#ffff00" stroke="#ffff00"/><use href="#s33" fill="#ff0000" stroke="#ff0000"/><use href="#s34" fill="#ff0000" stroke="#ff0000"/><use href="#s35" fill="#ffff00" stroke="#ffff00"/><use href="#inner" fill="none" stroke="#444" stroke-width="0.3"/>
</g>
<g transform="translate(39.70 330.20)"><text class="nb" x="12.4" y="-92.4" text-anchor="middle">16</text><text class="nb" x="17.3" y="-83.3" text-anchor="middle">15</text><text class="nb" x="10.7" y="-80.3" text-anchor="middle">14</text><text class="nb" x="23.6" y="-77.9" text-anchor="middle">12</text><text class="nb" x="13.6" y="-74.6" text-anchor="middle">13</text><text class="nb" x="20.3" y="-71.7" text-anchor="middle">11</text><text class="nb" x="2.0" y="-67.0" text-anchor="middle">17</text><text class="nb" x="10.7" y="-63.3" text-anchor="middle">18</text><text class="nb" x="-3.1" y="-53.6" text-anchor="middle">22</text><text class="nb" x="2.8" y="-54.9" text-anchor="middle">21</text><text class="nb" x="32.8" y="-65.4" text-anchor="middle">10</text><text class="nb" x="27.0" y="-56.2" text-anchor="middle">20</text><text class="nb" x="14.4" y="-53.7" text-anchor="middle">19</text><text class="nb" x="32.8" y="-49.5" text-anchor="middle">27</text><text class="nb" x="23.6" y="-46.4" text-anchor="middle">26</text><text class="nb" x="14.4" y="-41.6" text-anchor="middle">25</text><text class="nb" x="44.0" y="-63.3" text-anchor="middle">9</text><text class="nb" x="42.4" y="-56.2" text-anchor="middle">8</text><text class="nb" x="50.3" y="-54.5" text-anchor="middle">6</text><text class="nb" x="41.5" y="-47.4" text-anchor="middle">7</text><text class="nb" x="53.6" y="-68.7" text-anchor="middle">5</text><text class="nb" x="8.2" y="-38.3" text-anchor="middle">24</text><text class="nb" x="2.3" y="-37.8" text-anchor="middle">23</text><text class="nb" x="21.5" y="-37.4" text-anchor="middle">29</text><text class="nb" x="12.4" y="-32.4" text-anchor="middle">33</text><text class="nb" x="29.2" y="-32.6" text-anchor="middle">28</text><text class="nb" x="8.2" y="-27.4" text-anchor="middle">32</text><text class="nb" x="19.5" y="-26.6" text-anchor="middle">30</text><text class="nb" x="14.5" y="-23.6" text-anchor="middle">34</text><text class="nb" x="14.5" y="-13.2" text-anchor="middle">35</text><text class="nb" x="20.3" y="-14.5" text-anchor="middle">31</text><text class="nb" x="73.7" y="-72.0" text-anchor="middle">2</text><text class="nb" x="67.5" y="-63.7" text-anchor="middle">3</text><text class="nb" x="70.8" y="-58.7" text-anchor="middle">4</text></g>
<rect x="22.50" y="214.40" width="105.40" height="127.70" fill="none" stroke="#555" stroke-width="1"/>
<line x1="39.70" y1="211.90" x2="39.70" y2="214.40" stroke="#333" stroke-width="0.8"/><text class="ax" x="39.70" y="210.80" text-anchor="middle">72° E</text><line x1="59.35" y1="211.90" x2="59.35" y2="214.40" stroke="#333" stroke-width="0.8"/><text class="ax" x="59.35" y="210.80" text-anchor="middle">78° E</text><line x1="79.00" y1="211.90" x2="79.00" y2="214.40" stroke="#333" stroke-width="0.8"/><text class="ax" x="79.00" y="210.80" text-anchor="middle">84° E</text><line x1="98.65" y1="211.90" x2="98.65" y2="214.40" stroke="#333" stroke-width="0.8"/><text class="ax" x="98.65" y="210.80" text-anchor="middle">90° E</text><line x1="118.30" y1="211.90" x2="118.30" y2="214.40" stroke="#333" stroke-width="0.8"/><text class="ax" x="118.30" y="210.80" text-anchor="middle">96° E</text><line x1="20.00" y1="330.20" x2="22.50" y2="330.20" stroke="#333" stroke-width="0.8"/><text class="ax" transform="translate(18.50 330.60) rotate(-90)" text-anchor="middle">6° N</text><line x1="20.00" y1="310.55" x2="22.50" y2="310.55" stroke="#333" stroke-width="0.8"/><text class="ax" transform="translate(18.50 310.95) rotate(-90)" text-anchor="middle">12° N</text><line x1="20.00" y1="290.90" x2="22.50" y2="290.90" stroke="#333" stroke-width="0.8"/><text class="ax" transform="translate(18.50 291.30) rotate(-90)" text-anchor="middle">18° N</text><line x1="20.00" y1="271.25" x2="22.50" y2="271.25" stroke="#333" stroke-width="0.8"/><text class="ax" transform="translate(18.50 271.65) rotate(-90)" text-anchor="middle">24° N</text><line x1="20.00" y1="251.60" x2="22.50" y2="251.60" stroke="#333" stroke-width="0.8"/><text class="ax" transform="translate(18.50 252.00) rotate(-90)" text-anchor="middle">30° N</text><line x1="20.00" y1="231.95" x2="22.50" y2="231.95" stroke="#333" stroke-width="0.8"/><text class="ax" transform="translate(18.50 232.35) rotate(-90)" text-anchor="middle">36° N</text>
<text class="tt" x="73.00" y="225.50" text-anchor="middle">GPM</text>
</g>
<g>
<g transform="translate(161.70 329.40)" stroke-width="0.35">
<use href="#s2" fill="#ff0000" stroke="#ff0000"/><use href="#s3" fill="#ffff00" stroke="#ffff00"/><use href="#s4" fill="#ffff00" stroke="#ffff00"/><use href="#s5" fill="#ff0000" stroke="#ff0000"/><use href="#s6" fill="#008200" stroke="#008200"/><use href="#s7" fill="#008200" stroke="#008200"/><use href="#s8" fill="#ff0000" stroke="#ff0000"/><use href="#s9" fill="#008200" stroke="#008200"/><use href="#s10" fill="#ffff00" stroke="#ffff00"/><use href="#s11" fill="#ff0000" stroke="#ff0000"/><use href="#s12" fill="#ff0000" stroke="#ff0000"/><use href="#s13" fill="#ff0000" stroke="#ff0000"/><use href="#s14" fill="#ff0000" stroke="#ff0000"/><use href="#s15" fill="#ff0000" stroke="#ff0000"/><use href="#s16" fill="#ff0000" stroke="#ff0000"/><use href="#s17" fill="#008200" stroke="#008200"/><use href="#s18" fill="#008200" stroke="#008200"/><use href="#s19" fill="#008200" stroke="#008200"/><use href="#s20" fill="#008200" stroke="#008200"/><use href="#s21" fill="#ffff00" stroke="#ffff00"/><use href="#s22" fill="#008200" stroke="#008200"/><use href="#s23" fill="#ff0000" stroke="#ff0000"/><use href="#s24" fill="#ff0000" stroke="#ff0000"/><use href="#s25" fill="#ffff00" stroke="#ffff00"/><use href="#s26" fill="#008200" stroke="#008200"/><use href="#s27" fill="#008200" stroke="#008200"/><use href="#s28" fill="#ff0000" stroke="#ff0000"/><use href="#s29" fill="#ff0000" stroke="#ff0000"/><use href="#s30" fill="#ff0000" stroke="#ff0000"/><use href="#s31" fill="#ff0000" stroke="#ff0000"/><use href="#s32" fill="#ff0000" stroke="#ff0000"/><use href="#s33" fill="#ff0000" stroke="#ff0000"/><use href="#s34" fill="#ff0000" stroke="#ff0000"/><use href="#s35" fill="#ff0000" stroke="#ff0000"/><use href="#inner" fill="none" stroke="#444" stroke-width="0.3"/>
</g>
<g transform="translate(161.70 329.40)"><text class="nb" x="12.4" y="-92.4" text-anchor="middle">16</text><text class="nb" x="17.3" y="-83.3" text-anchor="middle">15</text><text class="nb" x="10.7" y="-80.3" text-anchor="middle">14</text><text class="nb" x="23.6" y="-77.9" text-anchor="middle">12</text><text class="nb" x="13.6" y="-74.6" text-anchor="middle">13</text><text class="nb" x="20.3" y="-71.7" text-anchor="middle">11</text><text class="nb" x="2.0" y="-67.0" text-anchor="middle">17</text><text class="nb" x="10.7" y="-63.3" text-anchor="middle">18</text><text class="nb" x="-3.1" y="-53.6" text-anchor="middle">22</text><text class="nb" x="2.8" y="-54.9" text-anchor="middle">21</text><text class="nb" x="32.8" y="-65.4" text-anchor="middle">10</text><text class="nb" x="27.0" y="-56.2" text-anchor="middle">20</text><text class="nb" x="14.4" y="-53.7" text-anchor="middle">19</text><text class="nb" x="32.8" y="-49.5" text-anchor="middle">27</text><text class="nb" x="23.6" y="-46.4" text-anchor="middle">26</text><text class="nb" x="14.4" y="-41.6" text-anchor="middle">25</text><text class="nb" x="44.0" y="-63.3" text-anchor="middle">9</text><text class="nb" x="42.4" y="-56.2" text-anchor="middle">8</text><text class="nb" x="50.3" y="-54.5" text-anchor="middle">6</text><text class="nb" x="41.5" y="-47.4" text-anchor="middle">7</text><text class="nb" x="53.6" y="-68.7" text-anchor="middle">5</text><text class="nb" x="8.2" y="-38.3" text-anchor="middle">24</text><text class="nb" x="2.3" y="-37.8" text-anchor="middle">23</text><text class="nb" x="21.5" y="-37.4" text-anchor="middle">29</text><text class="nb" x="12.4" y="-32.4" text-anchor="middle">33</text><text class="nb" x="29.2" y="-32.6" text-anchor="middle">28</text><text class="nb" x="8.2" y="-27.4" text-anchor="middle">32</text><text class="nb" x="19.5" y="-26.6" text-anchor="middle">30</text><text class="nb" x="14.5" y="-23.6" text-anchor="middle">34</text><text class="nb" x="14.5" y="-13.2" text-anchor="middle">35</text><text class="nb" x="20.3" y="-14.5" text-anchor="middle">31</text><text class="nb" x="73.7" y="-72.0" text-anchor="middle">2</text><text class="nb" x="67.5" y="-63.7" text-anchor="middle">3</text><text class="nb" x="70.8" y="-58.7" text-anchor="middle">4</text></g>
<rect x="144.50" y="213.60" width="105.00" height="127.90" fill="none" stroke="#555" stroke-width="1"/>
<line x1="161.70" y1="211.10" x2="161.70" y2="213.60" stroke="#333" stroke-width="0.8"/><text class="ax" x="161.70" y="210.00" text-anchor="middle">72° E</text><line x1="181.35" y1="211.10" x2="181.35" y2="213.60" stroke="#333" stroke-width="0.8"/><text class="ax" x="181.35" y="210.00" text-anchor="middle">78° E</text><line x1="201.00" y1="211.10" x2="201.00" y2="213.60" stroke="#333" stroke-width="0.8"/><text class="ax" x="201.00" y="210.00" text-anchor="middle">84° E</text><line x1="220.65" y1="211.10" x2="220.65" y2="213.60" stroke="#333" stroke-width="0.8"/><text class="ax" x="220.65" y="210.00" text-anchor="middle">90° E</text><line x1="240.30" y1="211.10" x2="240.30" y2="213.60" stroke="#333" stroke-width="0.8"/><text class="ax" x="240.30" y="210.00" text-anchor="middle">96° E</text>
<text class="tt" x="202.20" y="224.10" text-anchor="middle">PERSIANN-CDR</text>
</g>
<g>
<g transform="translate(285.80 328.50)" stroke-width="0.35">
<use href="#s2" fill="#ff0000" stroke="#ff0000"/><use href="#s3" fill="#ff0000" stroke="#ff0000"/><use href="#s4" fill="#ff0000" stroke="#ff0000"/><use href="#s5" fill="#ffff00" stroke="#ffff00"/><use href="#s6" fill="#ffff00" stroke="#ffff00"/><use href="#s7" fill="#008200" stroke="#008200"/><use href="#s8" fill="#ff0000" stroke="#ff0000"/><use href="#s9" fill="#008200" stroke="#008200"/><use href="#s10" fill="#ffff00" stroke="#ffff00"/><use href="#s11" fill="#ff0000" stroke="#ff0000"/><use href="#s12" fill="#ff0000" stroke="#ff0000"/><use href="#s13" fill="#ff0000" stroke="#ff0000"/><use href="#s14" fill="#ff0000" stroke="#ff0000"/><use href="#s15" fill="#ff0000" stroke="#ff0000"/><use href="#s16" fill="#ff0000" stroke="#ff0000"/><use href="#s17" fill="#ff0000" stroke="#ff0000"/><use href="#s18" fill="#008200" stroke="#008200"/><use href="#s19" fill="#008200" stroke="#008200"/><use href="#s20" fill="#008200" stroke="#008200"/><use href="#s21" fill="#ffff00" stroke="#ffff00"/><use href="#s22" fill="#ff0000" stroke="#ff0000"/><use href="#s23" fill="#ff0000" stroke="#ff0000"/><use href="#s24" fill="#ff0000" stroke="#ff0000"/><use href="#s25" fill="#008200" stroke="#008200"/><use href="#s26" fill="#ffff00" stroke="#ffff00"/><use href="#s27" fill="#008200" stroke="#008200"/><use href="#s28" fill="#ff0000" stroke="#ff0000"/><use href="#s29" fill="#ff0000" stroke="#ff0000"/><use href="#s30" fill="#ff0000" stroke="#ff0000"/><use href="#s31" fill="#ff0000" stroke="#ff0000"/><use href="#s32" fill="#ffff00" stroke="#ffff00"/><use href="#s33" fill="#ff0000" stroke="#ff0000"/><use href="#s34" fill="#ff0000" stroke="#ff0000"/><use href="#s35" fill="#ffff00" stroke="#ffff00"/><use href="#inner" fill="none" stroke="#444" stroke-width="0.3"/>
</g>
<g transform="translate(285.80 328.50)"><text class="nb" x="12.4" y="-92.4" text-anchor="middle">16</text><text class="nb" x="17.3" y="-83.3" text-anchor="middle">15</text><text class="nb" x="10.7" y="-80.3" text-anchor="middle">14</text><text class="nb" x="23.6" y="-77.9" text-anchor="middle">12</text><text class="nb" x="13.6" y="-74.6" text-anchor="middle">13</text><text class="nb" x="20.3" y="-71.7" text-anchor="middle">11</text><text class="nb" x="2.0" y="-67.0" text-anchor="middle">17</text><text class="nb" x="10.7" y="-63.3" text-anchor="middle">18</text><text class="nb" x="-3.1" y="-53.6" text-anchor="middle">22</text><text class="nb" x="2.8" y="-54.9" text-anchor="middle">21</text><text class="nb" x="32.8" y="-65.4" text-anchor="middle">10</text><text class="nb" x="27.0" y="-56.2" text-anchor="middle">20</text><text class="nb" x="14.4" y="-53.7" text-anchor="middle">19</text><text class="nb" x="32.8" y="-49.5" text-anchor="middle">27</text><text class="nb" x="23.6" y="-46.4" text-anchor="middle">26</text><text class="nb" x="14.4" y="-41.6" text-anchor="middle">25</text><text class="nb" x="44.0" y="-63.3" text-anchor="middle">9</text><text class="nb" x="42.4" y="-56.2" text-anchor="middle">8</text><text class="nb" x="50.3" y="-54.5" text-anchor="middle">6</text><text class="nb" x="41.5" y="-47.4" text-anchor="middle">7</text><text class="nb" x="53.6" y="-68.7" text-anchor="middle">5</text><text class="nb" x="8.2" y="-38.3" text-anchor="middle">24</text><text class="nb" x="2.3" y="-37.8" text-anchor="middle">23</text><text class="nb" x="21.5" y="-37.4" text-anchor="middle">29</text><text class="nb" x="12.4" y="-32.4" text-anchor="middle">33</text><text class="nb" x="29.2" y="-32.6" text-anchor="middle">28</text><text class="nb" x="8.2" y="-27.4" text-anchor="middle">32</text><text class="nb" x="19.5" y="-26.6" text-anchor="middle">30</text><text class="nb" x="14.5" y="-23.6" text-anchor="middle">34</text><text class="nb" x="14.5" y="-13.2" text-anchor="middle">35</text><text class="nb" x="20.3" y="-14.5" text-anchor="middle">31</text><text class="nb" x="73.7" y="-72.0" text-anchor="middle">2</text><text class="nb" x="67.5" y="-63.7" text-anchor="middle">3</text><text class="nb" x="70.8" y="-58.7" text-anchor="middle">4</text></g>
<rect x="268.60" y="212.70" width="105.70" height="127.60" fill="none" stroke="#555" stroke-width="1"/>
<line x1="285.80" y1="210.20" x2="285.80" y2="212.70" stroke="#333" stroke-width="0.8"/><text class="ax" x="285.80" y="209.10" text-anchor="middle">72° E</text><line x1="305.45" y1="210.20" x2="305.45" y2="212.70" stroke="#333" stroke-width="0.8"/><text class="ax" x="305.45" y="209.10" text-anchor="middle">78° E</text><line x1="325.10" y1="210.20" x2="325.10" y2="212.70" stroke="#333" stroke-width="0.8"/><text class="ax" x="325.10" y="209.10" text-anchor="middle">84° E</text><line x1="344.75" y1="210.20" x2="344.75" y2="212.70" stroke="#333" stroke-width="0.8"/><text class="ax" x="344.75" y="209.10" text-anchor="middle">90° E</text><line x1="364.40" y1="210.20" x2="364.40" y2="212.70" stroke="#333" stroke-width="0.8"/><text class="ax" x="364.40" y="209.10" text-anchor="middle">96° E</text>
<text class="tt" x="325.10" y="223.20" text-anchor="middle">SM2RAIN-ASCAT</text>
</g>
<g>
<g transform="translate(407.50 327.30)" stroke-width="0.35">
<use href="#s2" fill="#ff0000" stroke="#ff0000"/><use href="#s3" fill="#ff0000" stroke="#ff0000"/><use href="#s4" fill="#ffff00" stroke="#ffff00"/><use href="#s5" fill="#ff0000" stroke="#ff0000"/><use href="#s6" fill="#008200" stroke="#008200"/><use href="#s7" fill="#ff0000" stroke="#ff0000"/><use href="#s8" fill="#ff0000" stroke="#ff0000"/><use href="#s9" fill="#008200" stroke="#008200"/><use href="#s10" fill="#ff0000" stroke="#ff0000"/><use href="#s11" fill="#ff0000" stroke="#ff0000"/><use href="#s12" fill="#ff0000" stroke="#ff0000"/><use href="#s13" fill="#ff0000" stroke="#ff0000"/><use href="#s14" fill="#ff0000" stroke="#ff0000"/><use href="#s15" fill="#ff0000" stroke="#ff0000"/><use href="#s16" fill="#ff0000" stroke="#ff0000"/><use href="#s17" fill="#ff0000" stroke="#ff0000"/><use href="#s18" fill="#008200" stroke="#008200"/><use href="#s19" fill="#ff0000" stroke="#ff0000"/><use href="#s20" fill="#ffff00" stroke="#ffff00"/><use href="#s21" fill="#ff0000" stroke="#ff0000"/><use href="#s22" fill="#ffff00" stroke="#ffff00"/><use href="#s23" fill="#008200" stroke="#008200"/><use href="#s24" fill="#ff0000" stroke="#ff0000"/><use href="#s25" fill="#ff0000" stroke="#ff0000"/><use href="#s26" fill="#ff0000" stroke="#ff0000"/><use href="#s27" fill="#008200" stroke="#008200"/><use href="#s28" fill="#ff0000" stroke="#ff0000"/><use href="#s29" fill="#ff0000" stroke="#ff0000"/><use href="#s30" fill="#ff0000" stroke="#ff0000"/><use href="#s31" fill="#ff0000" stroke="#ff0000"/><use href="#s32" fill="#ff0000" stroke="#ff0000"/><use href="#s33" fill="#ff0000" stroke="#ff0000"/><use href="#s34" fill="#ff0000" stroke="#ff0000"/><use href="#s35" fill="#ff0000" stroke="#ff0000"/><use href="#inner" fill="none" stroke="#444" stroke-width="0.3"/>
</g>
<g transform="translate(407.50 327.30)"><text class="nb" x="12.4" y="-92.4" text-anchor="middle">16</text><text class="nb" x="17.3" y="-83.3" text-anchor="middle">15</text><text class="nb" x="10.7" y="-80.3" text-anchor="middle">14</text><text class="nb" x="23.6" y="-77.9" text-anchor="middle">12</text><text class="nb" x="13.6" y="-74.6" text-anchor="middle">13</text><text class="nb" x="20.3" y="-71.7" text-anchor="middle">11</text><text class="nb" x="2.0" y="-67.0" text-anchor="middle">17</text><text class="nb" x="10.7" y="-63.3" text-anchor="middle">18</text><text class="nb" x="-3.1" y="-53.6" text-anchor="middle">22</text><text class="nb" x="2.8" y="-54.9" text-anchor="middle">21</text><text class="nb" x="32.8" y="-65.4" text-anchor="middle">10</text><text class="nb" x="27.0" y="-56.2" text-anchor="middle">20</text><text class="nb" x="14.4" y="-53.7" text-anchor="middle">19</text><text class="nb" x="32.8" y="-49.5" text-anchor="middle">27</text><text class="nb" x="23.6" y="-46.4" text-anchor="middle">26</text><text class="nb" x="14.4" y="-41.6" text-anchor="middle">25</text><text class="nb" x="44.0" y="-63.3" text-anchor="middle">9</text><text class="nb" x="42.4" y="-56.2" text-anchor="middle">8</text><text class="nb" x="50.3" y="-54.5" text-anchor="middle">6</text><text class="nb" x="41.5" y="-47.4" text-anchor="middle">7</text><text class="nb" x="53.6" y="-68.7" text-anchor="middle">5</text><text class="nb" x="8.2" y="-38.3" text-anchor="middle">24</text><text class="nb" x="2.3" y="-37.8" text-anchor="middle">23</text><text class="nb" x="21.5" y="-37.4" text-anchor="middle">29</text><text class="nb" x="12.4" y="-32.4" text-anchor="middle">33</text><text class="nb" x="29.2" y="-32.6" text-anchor="middle">28</text><text class="nb" x="8.2" y="-27.4" text-anchor="middle">32</text><text class="nb" x="19.5" y="-26.6" text-anchor="middle">30</text><text class="nb" x="14.5" y="-23.6" text-anchor="middle">34</text><text class="nb" x="14.5" y="-13.2" text-anchor="middle">35</text><text class="nb" x="20.3" y="-14.5" text-anchor="middle">31</text><text class="nb" x="73.7" y="-72.0" text-anchor="middle">2</text><text class="nb" x="67.5" y="-63.7" text-anchor="middle">3</text><text class="nb" x="70.8" y="-58.7" text-anchor="middle">4</text></g>
<rect x="390.30" y="211.50" width="105.20" height="127.90" fill="none" stroke="#555" stroke-width="1"/>
<line x1="407.50" y1="209.00" x2="407.50" y2="211.50" stroke="#333" stroke-width="0.8"/><text class="ax" x="407.50" y="207.90" text-anchor="middle">72° E</text><line x1="427.15" y1="209.00" x2="427.15" y2="211.50" stroke="#333" stroke-width="0.8"/><text class="ax" x="427.15" y="207.90" text-anchor="middle">78° E</text><line x1="446.80" y1="209.00" x2="446.80" y2="211.50" stroke="#333" stroke-width="0.8"/><text class="ax" x="446.80" y="207.90" text-anchor="middle">84° E</text><line x1="466.45" y1="209.00" x2="466.45" y2="211.50" stroke="#333" stroke-width="0.8"/><text class="ax" x="466.45" y="207.90" text-anchor="middle">90° E</text><line x1="486.10" y1="209.00" x2="486.10" y2="211.50" stroke="#333" stroke-width="0.8"/><text class="ax" x="486.10" y="207.90" text-anchor="middle">96° E</text>
<text class="tt" x="444.10" y="222.00" text-anchor="middle">TerraClimate</text>
</g>
<rect x="375.3" y="91.9" width="29" height="14" fill="#007200"/><rect x="375.3" y="119" width="29" height="14" fill="#ffff00"/><rect x="375.3" y="148.1" width="28.8" height="14.1" fill="#ff0000"/><text class="lg" x="408.4" y="103.8">Good Performing</text><text class="lg" x="406.7" y="130.8">Moderate Performing</text><text class="lg" x="410" y="160.3">Low Performing</text>
<text x="523" y="20.6" text-anchor="middle" style="font-family:'Liberation Sans',sans-serif;font-size:10px">N</text><path d="M522.9 24.4 L515.7 47.6 L523.1 39 Z" fill="#000"/><path d="M522.9 24.4 L530.6 47.6 L523.1 39 Z" fill="#fff" stroke="#000" stroke-width="0.8" stroke-linejoin="miter"/>
</svg>
</body></html>
